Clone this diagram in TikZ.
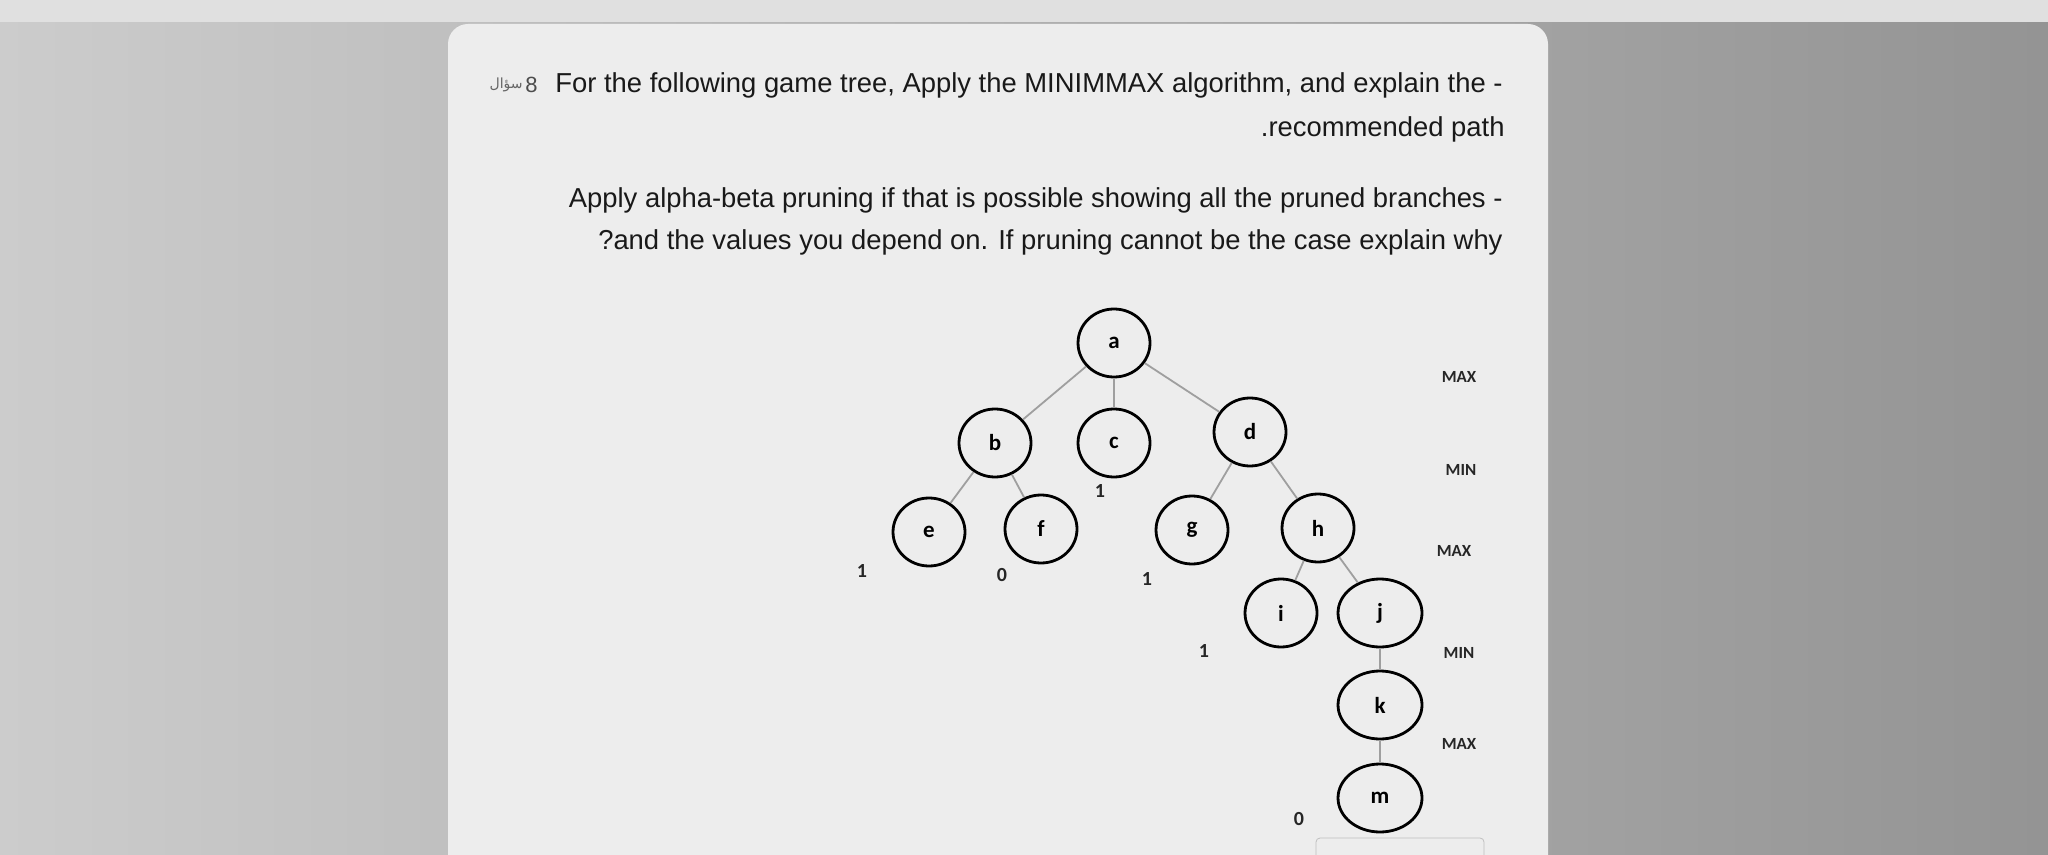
\documentclass[tikz,border=0pt]{standalone}
\usepackage{fontspec}
\setmainfont{Liberation Sans}
\newfontfamily\nodefont{Carlito}
\newfontfamily\arabicfont[Script=Arabic]{DejaVu Sans}
\TeXXeTstate=1
\usetikzlibrary{shapes.geometric}
\begin{document}
\begin{tikzpicture}[x=0.5pt,y=-0.5pt,
  tn/.style={ellipse,draw=black,line width=1.4pt,fill=black!7,minimum width=36pt,minimum height=34pt,inner sep=0pt,font=\nodefont\bfseries\fontsize{11.5}{11.5}\selectfont},
  lvl/.style={font=\nodefont\bfseries\fontsize{8.5}{9}\selectfont,text=black!85},
  val/.style={font=\nodefont\bfseries\fontsize{10}{10}\selectfont,text=black!85},
  edge/.style={draw=gray!75,line width=0.9pt},
  qtext/.style={font=\fontsize{13.7}{16}\selectfont,text=black!90,inner sep=0pt}]
\useasboundingbox (0,0) rectangle (2048,855);
\shade[left color=black!20,right color=black!42] (0,0) rectangle (2048,855);
\fill[black!12] (0,0) rectangle (2048,22);
\fill[black!7,rounded corners=10pt] (448,24) rectangle (1548,880);
% question text
\node[font=\arabicfont\fontsize{7}{7}\selectfont,text=black!60,anchor=east,inner sep=0pt] (ar) at (523,85) {\beginR سؤال\endR};
\node[qtext,anchor=west,text=black!70] (num) at (525,85) {\fontsize{11}{11}\selectfont 8};
\node[qtext,anchor=west] (l1) at (555,85) {For the following game tree, Apply the MINIMMAX algorithm, and explain the -};
\node[qtext,anchor=east] (l2) at (1505,129) {.recommended path};
\node[qtext,anchor=east] (l3) at (1503,200) {Apply alpha-beta pruning if that is possible showing all the pruned branches -};
\node[qtext,anchor=east] (l4) at (1503,242) {?and the values you depend on. If pruning cannot be the case explain why};
% tree
\node[tn] (a) at (1114,343) {a};
\node[tn] (b) at (995,443) {b};
\node[tn] (c) at (1114,443) {c};
\node[tn] (d) at (1250,432) {d};
\node[tn] (e) at (929,532) {e};
\node[tn] (f) at (1041,529) {f};
\node[tn] (g) at (1192,530) {g};
\node[tn] (h) at (1318,528) {h};
\node[tn] (i) at (1281,613) {i};
\node[tn,minimum width=42pt] (j) at (1380,613) {j};
\node[tn,minimum width=42pt] (k) at (1380,705) {k};
\node[tn,minimum width=42pt] (m) at (1380,798) {m};
\foreach \p/\q in {a/b,a/c,a/d,b/e,b/f,d/g,d/h,h/i,h/j,j/k,k/m}
  \draw[edge] (\p) -- (\q);
% level labels
\node[lvl] (L1) at (1459,377) {MAX};
\node[lvl] (L2) at (1461,470) {MIN};
\node[lvl] (L3) at (1454,551) {MAX};
\node[lvl] (L4) at (1459,653) {MIN};
\node[lvl] (L5) at (1459,744) {MAX};
% values
\node[val] (vc) at (1100,491) {1};
\node[val] (ve) at (862,571) {1};
\node[val] (vf) at (1002,575) {0};
\node[val] (vg) at (1147,579) {1};
\node[val] (vi) at (1204,651) {1};
\node[val] (vm) at (1299,819) {0};
\draw[black!25,rounded corners=2pt] (1316,838) rectangle (1484,870);
\end{tikzpicture}
\end{document}
